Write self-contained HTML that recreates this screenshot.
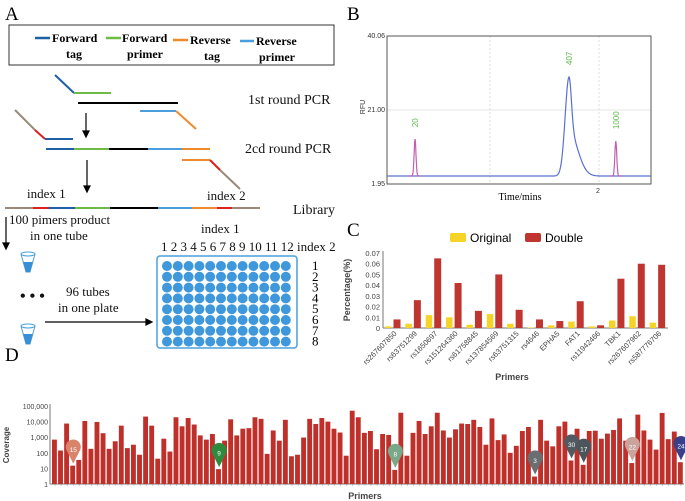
<!DOCTYPE html>
<html><head><meta charset="utf-8">
<style>
html,body{margin:0;padding:0;background:#fff;}
svg{display:block;font-family:"Liberation Sans",sans-serif;}
</style></head>
<body>
<svg id="fig" width="685" height="501" viewBox="0 0 685 501">
<!-- Panel A -->
<g>
<text x="5" y="20" font-size="19" font-family="Liberation Serif">A</text>
<rect x="9" y="25" width="325" height="40" fill="none" stroke="#333" stroke-width="1"/>
<g font-family="Liberation Serif" font-weight="bold" font-size="12">
<line x1="35" y1="38" x2="50" y2="38" stroke="#1f5fa8" stroke-width="2.5"/>
<text x="52" y="42">Forward</text><text x="66" y="58">tag</text>
<line x1="106" y1="38" x2="121" y2="38" stroke="#6dbb45" stroke-width="2.5"/>
<text x="122" y="42">Forward</text><text x="127" y="58">primer</text>
<line x1="173" y1="40" x2="188" y2="40" stroke="#f08a2a" stroke-width="2.5"/>
<text x="190" y="44">Reverse</text><text x="204" y="60">tag</text>
<line x1="240" y1="41" x2="254" y2="41" stroke="#4a9fdc" stroke-width="2.5"/>
<text x="256" y="45">Reverse</text><text x="259" y="61">primer</text>
</g>
<g stroke-width="2" fill="none">
<line x1="55" y1="75" x2="74" y2="93" stroke="#1f5fa8"/>
<line x1="74" y1="93" x2="111" y2="93" stroke="#6dbb45"/>
<line x1="78" y1="103" x2="178" y2="103" stroke="#000"/>
<line x1="140" y1="111" x2="176" y2="111" stroke="#4a9fdc"/>
<line x1="176" y1="111" x2="196" y2="129" stroke="#f08a2a"/>
<line x1="15" y1="110" x2="35" y2="130" stroke="#9a8a7a"/>
<line x1="35" y1="130" x2="45" y2="139" stroke="#e02020"/>
<line x1="45" y1="139" x2="73" y2="139" stroke="#1f5fa8"/>
<line x1="46" y1="149" x2="74" y2="149" stroke="#1f5fa8"/>
<line x1="74" y1="149" x2="109" y2="149" stroke="#6dbb45"/>
<line x1="109" y1="149" x2="148" y2="149" stroke="#000"/>
<line x1="148" y1="149" x2="182" y2="149" stroke="#4a9fdc"/>
<line x1="182" y1="149" x2="210" y2="149" stroke="#f08a2a"/>
<line x1="182" y1="160" x2="210" y2="160" stroke="#f08a2a"/>
<line x1="210" y1="160" x2="220" y2="170" stroke="#e02020"/>
<line x1="220" y1="170" x2="240" y2="189" stroke="#9a8a7a"/>
<line x1="5" y1="208" x2="33" y2="208" stroke="#9a8a7a"/>
<line x1="33" y1="208" x2="49" y2="208" stroke="#e02020"/>
<line x1="49" y1="208" x2="75" y2="208" stroke="#1f5fa8"/>
<line x1="75" y1="208" x2="110" y2="208" stroke="#6dbb45"/>
<line x1="110" y1="208" x2="158" y2="208" stroke="#000"/>
<line x1="158" y1="208" x2="192" y2="208" stroke="#4a9fdc"/>
<line x1="192" y1="208" x2="217" y2="208" stroke="#f08a2a"/>
<line x1="217" y1="208" x2="232" y2="208" stroke="#e02020"/>
<line x1="232" y1="208" x2="260" y2="208" stroke="#9a8a7a"/>
</g>
<g stroke="#000" stroke-width="1.2" fill="#000">
<line x1="86" y1="113" x2="86" y2="132"/><path d="M83 131 L86 137 L89 131Z"/>
<line x1="87" y1="160" x2="87" y2="187"/><path d="M84 186 L87 192 L90 186Z"/>
<line x1="6" y1="217" x2="6" y2="244"/><path d="M3 243 L6 249 L9 243Z"/>
<line x1="45" y1="322" x2="147" y2="322"/><path d="M146 319 L152 322 L146 325Z"/>
</g>
<g font-family="Liberation Serif" font-size="13" fill="#111">
<text x="248" y="104" font-size="14">1st round PCR</text>
<text x="245" y="153" font-size="14">2cd round PCR</text>
<text x="27" y="198">index 1</text>
<text x="207" y="200">index 2</text>
<text x="293" y="214" font-size="14">Library</text>
<text x="9" y="224">100 pimers product</text>
<text x="30" y="240">in one tube</text>
<text x="66" y="296">96 tubes</text>
<text x="58" y="312">in one plate</text>
<text x="201" y="233">index 1</text>
<text x="161" y="251">1 2 3 4 5 6 7 8 9 10 11 12 index 2</text>
<text x="20" y="301" font-size="16" font-weight="bold">• • •</text>
</g>
<g>
<path d="M21 254 L35 254 L30 272 L26 272Z" fill="#fff" stroke="#4a9fdc" stroke-width="1"/>
<path d="M23 262 L33 262 L30 272 L26 272Z" fill="#3a8fd4"/>
<ellipse cx="28" cy="254" rx="7" ry="2" fill="#fff" stroke="#4a9fdc"/>
<path d="M21 326 L35 326 L30 344 L26 344Z" fill="#fff" stroke="#4a9fdc" stroke-width="1"/>
<path d="M23 334 L33 334 L30 344 L26 344Z" fill="#3a8fd4"/>
<ellipse cx="28" cy="326" rx="7" ry="2" fill="#fff" stroke="#4a9fdc"/>
</g>
<rect x="157" y="256" width="140" height="92" rx="3" fill="#fff" stroke="#4a9fdc" stroke-width="1.5"/>
<g id="wells"></g>
<g id="rownums" font-family="Liberation Serif" font-size="13"></g>
</g>

<!-- Panel B -->
<g>
<text x="347" y="20" font-size="19" font-family="Liberation Serif">B</text>
<line x1="490" y1="36" x2="490" y2="184" stroke="#ddd" stroke-dasharray="2,2"/>
<line x1="599" y1="36" x2="599" y2="184" stroke="#ddd" stroke-dasharray="2,2"/>
<line x1="387" y1="110" x2="651" y2="110" stroke="#e5e5e5"/>
<rect x="387" y="36" width="264" height="148" fill="none" stroke="#555" stroke-width="1"/>
<g font-size="7" fill="#333">
<text x="385" y="38" text-anchor="end">40.06</text>
<text x="385" y="112" text-anchor="end">21.00</text>
<text x="385" y="186" text-anchor="end">1.95</text>
<text x="598" y="193" text-anchor="middle">2</text>
<text transform="translate(365,107) rotate(-90)" text-anchor="middle">RFU</text>
</g>
<text x="520" y="200" font-size="10" font-family="Liberation Serif" text-anchor="middle">Time/mins</text>
<g id="traceB"></g>
</g>

<!-- Panel C -->
<g>
<text x="347" y="236" font-size="19" font-family="Liberation Serif">C</text>
<rect x="450" y="233" width="16" height="9" rx="2" fill="#f5d327"/>
<text x="470" y="242" font-size="12">Original</text>
<rect x="525" y="233" width="16" height="9" rx="2" fill="#bf3530"/>
<text x="545" y="242" font-size="12">Double</text>
<g id="chartC"></g>
<text x="512" y="380" font-size="9" font-weight="bold" fill="#444" text-anchor="middle">Primers</text>
<text transform="translate(350,290) rotate(-90)" font-size="9" font-weight="bold" fill="#444" text-anchor="middle">Percentage(%)</text>
</g>

<!-- Panel D -->
<g>
<text x="5" y="361" font-size="19" font-family="Liberation Serif">D</text>
<g id="chartD"></g>
<text x="365" y="499" font-size="9" font-weight="bold" fill="#444" text-anchor="middle">Primers</text>
<text transform="translate(9,445) rotate(-90)" font-size="8" font-weight="bold" fill="#444" text-anchor="middle">Coverage</text>
</g>
</svg>
<script>
// ---- Panel C data ----
const cCategories = ["rs267607850","rs63751299","rs1650697","rs151264360","rs61758845","rs137854569","rs63751315","rs4646","EPHA5","FAT1","rs11942466","TBK1","rs267607962","rs587776706"];
const cOriginal = [0.0015,0.004,0.012,0.010,0.003,0.013,0.004,0.0005,0.0025,0.006,0.0015,0.007,0.011,0.005];
const cDouble = [0.008,0.026,0.065,0.042,0.016,0.050,0.017,0.008,0.0065,0.025,0.0025,0.046,0.060,0.059];
const cTicks = [0,0.01,0.02,0.03,0.04,0.05,0.06,0.07];
const cTickLabels = ["0","0.01","0.02","0.03","0.04","0.05","0.06","0.07"];
// ---- Panel D data ----
const dCoverage = [700,140,7500,15,35,11000,180,9500,1800,180,550,5500,200,330,75,21000,5500,42,800,120,19000,5000,17000,6500,1300,700,1600,9,600,14000,1300,3500,3800,19000,15000,85,2700,600,13000,60,75,950,15000,7000,17000,10000,3500,2000,65,50000,19000,1900,2500,170,1600,1400,8,37000,65,1900,11000,1600,5000,37000,2700,950,3200,7500,7000,13000,4500,330,16000,650,1500,100,280,2500,4500,3,13000,600,260,5000,10000,32,3500,17,2500,2600,800,1700,2900,16000,600,22,28000,2700,700,160,36000,750,2300,25];
const dTicks = [1,10,100,1000,10000,100000];
const dTickLabels = ["1","10","100","1,000","10,000","100,000"];
const dMarkerLabels = ["15","9","8","3","30","17","22","24"];
const dMarkerIndex = [3,27,56,79,85,87,95,103];
const dMarkerColors = ["#d9846a","#2e8b3e","#7aa888","#6b6e70","#505a60","#4a555c","#c9a49c","#3a3f8a"];
// ---- Panel B peaks ----
const bPeakTimes = [0.255,1.655,2.08];
const bPeakHeights = [9.5,25.5,9];
const bPeakLabels = ["20","407","1000"];
const bPeakColors = ["#c060b0","#5a70d0","#c060b0"];

const NS="http://www.w3.org/2000/svg";
function mk(tag,attrs,parent){const e=document.createElementNS(NS,tag);for(const k in attrs)e.setAttribute(k,attrs[k]);parent.appendChild(e);return e;}

// wells
const wells=document.getElementById('wells');
for(let r=0;r<8;r++)for(let c=0;c<12;c++){
  const w=mk('circle',{cx:167+c*10.8,cy:266+r*10.8,r:5,fill:'#3f98dc'},wells);
  
  
}
const rn=document.getElementById('rownums');
for(let r=0;r<8;r++){const t=mk('text',{x:312,y:270+r*10.8},rn);t.textContent=String(r+1);
  
  }

// Panel B trace
(function(){
  const g=document.getElementById('traceB');
  const x0=387,x1=651,t0=0,t1=2.4;
  const yv=v=>184-(v-1.95)/(40.06-1.95)*148;
  const xt=t=>x0+(t-t0)/(t1-t0)*(x1-x0);
  const base=4.0;
  const c=bPeakTimes[1],h=bPeakHeights[1];
  let d='';
  for(let i=0;i<=528;i++){
    const t=t0+(t1-t0)*i/528;
    let v=base;
    if(t<c) v+=h*Math.exp(-Math.pow((t-c)/0.05,2));
    else v+=h*(0.55*Math.exp(-Math.pow((t-c)/0.03,2))+0.45*Math.exp(-Math.pow((t-c)/0.11,2)));
    d+=(i?'L':'M')+xt(t).toFixed(1)+' '+yv(v).toFixed(1);
  }
  const p=mk('path',{d:d,fill:'none',stroke:bPeakColors[1],'stroke-width':1.2},g);
  
  
  [0,2].forEach(k=>{
    let dd='';
    for(let i=-20;i<=20;i++){const t=bPeakTimes[k]+i*0.003;const v=base+bPeakHeights[k]*Math.exp(-Math.pow((t-bPeakTimes[k])/0.012,2));dd+=(i>-20?'L':'M')+xt(t).toFixed(1)+' '+yv(v).toFixed(1);}
    const q=mk('path',{d:dd,fill:'none',stroke:bPeakColors[k],'stroke-width':1.2},g);
    
    
  });
  bPeakLabels.forEach((s,k)=>{
    const x=xt(bPeakTimes[k])+3,y=yv(base+bPeakHeights[k])-12;
    const t=mk('text',{transform:`translate(${x},${y}) rotate(-90)`,'font-size':8,fill:'#5cb84a'},g);
    t.textContent=s;
    
    
  });
})();

// Panel C chart
(function(){
  const g=document.getElementById('chartC');
  const X0=383,X1=668,Y0=328,Y1=253,max=0.07;
  const y=v=>Y0-(v/max)*(Y0-Y1);
  const bw=(X1-X0)/cCategories.length;
  const ax=mk('line',{x1:X0,y1:Y1-2,x2:X0,y2:Y0,stroke:'#777'},g);
  
  const bx=mk('line',{x1:X0,y1:Y0,x2:X1,y2:Y0,stroke:'#777'},g);
  
  cTicks.forEach((v,i)=>{
    const t=mk('text',{x:X0-3,y:y(v)+3,'font-size':7.5,fill:'#444','text-anchor':'end'},g);t.textContent=cTickLabels[i];
    
  });
  cCategories.forEach((c,i)=>{
    const gx=X0+i*bw;
    const a=mk('rect',{x:gx+2,y:y(cOriginal[i]),width:6.5,height:Y0-y(cOriginal[i]),fill:'#f5d327'},g);
    
    const b=mk('rect',{x:gx+10.5,y:y(cDouble[i]),width:7,height:Y0-y(cDouble[i]),fill:'#bf3530'},g);
    
    const cx=gx+bw/2+4;
    const t=mk('text',{transform:`translate(${cx},${Y0+6}) rotate(-45)`,'font-size':7.5,fill:'#444','text-anchor':'end'},g);t.textContent=c;
    
  });
})();

// Panel D chart
(function(){
  const g=document.getElementById('chartD');
  const X0=50,X1=684,Y0=484,Ytop=406;
  const y=v=>Y0-Math.log10(v)/5*(Y0-Ytop);
  const pitch=(X1-X0-2)/dCoverage.length;
  const ax=mk('line',{x1:X0,y1:Ytop-2,x2:X0,y2:Y0,stroke:'#777'},g);
  
  const bx=mk('line',{x1:X0,y1:Y0,x2:X1,y2:Y0,stroke:'#777'},g);
  
  dTicks.forEach((v,i)=>{
    const t=mk('text',{x:X0-2,y:y(v)+3,'font-size':7,fill:'#444','text-anchor':'end'},g);t.textContent=dTickLabels[i];
    
  });
  dCoverage.forEach((v,i)=>{
    const x=X0+2+i*pitch;
    const r=mk('rect',{x:x,y:y(v),width:pitch-1.2,height:Y0-y(v),fill:'#c0302b'},g);
    
    const tk=mk('line',{x1:x+pitch/2,y1:Y0,x2:x+pitch/2,y2:Y0+2,stroke:'#999','stroke-width':0.5},g);
    
  });
  dMarkerIndex.forEach((idx,k)=>{
    const cx=X0+2+idx*pitch+pitch/2;
    const tip=y(dCoverage[idx])-2;
    const cy=tip-14;
    const m=mk('path',{d:`M${cx-7} ${cy} A7.5 7.5 0 1 1 ${cx+7} ${cy} L${cx} ${tip} Z`,fill:dMarkerColors[k]},g);
    
    const t=mk('text',{x:cx,y:cy+2.5,'font-size':6.5,fill:'#fff','text-anchor':'middle'},g);t.textContent=dMarkerLabels[k];
    
  });
})();
</script>
</body></html>
